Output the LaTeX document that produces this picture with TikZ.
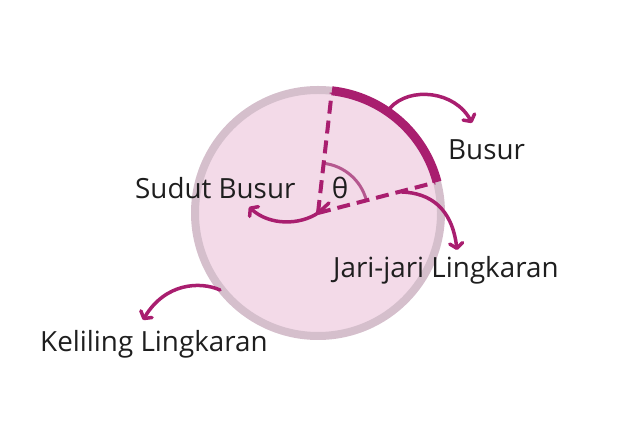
\documentclass[tikz,border=0pt]{standalone}
\usepackage{fontspec}
\setmainfont{Open Sans}
\usetikzlibrary{arrows.meta}
\definecolor{mag}{HTML}{A91E6F}
\definecolor{ringc}{HTML}{D5BFCC}
\definecolor{fillc}{HTML}{F3DAE8}
\definecolor{anglec}{HTML}{B5588F}
\definecolor{txt}{HTML}{1E1E1E}
\tikzset{
  lbl/.style={anchor=base west,inner sep=0pt,text=txt,font=\fontsize{27.8}{32}\selectfont},
  radius line/.style={draw=mag,line width=4pt,dash pattern=on 13pt off 7pt},
  pointer/.style={draw=mag,line width=3.5pt,line cap=round,line join=round,-{Straight Barb[length=5pt,width=13pt,round]}}
}
\begin{document}
\begin{tikzpicture}[x=1pt,y=1pt]
\useasboundingbox (0,0) rectangle (634,433);
\coordinate (C) at (318,220);
% circle
\draw[draw=ringc,fill=fillc,line width=8pt] (C) circle[radius=123];
% arc (busur)
\draw[draw=mag,line width=9pt] ([shift={(14.6:123)}]C) arc[start angle=14.6,end angle=83.5,radius=123];
% angle arc
\draw[draw=anglec,line width=3pt] ([shift={(14.6:50)}]C) arc[start angle=14.6,end angle=83.5,radius=50];
% radii
\coordinate (P1) at ([shift={(83.5:121)}]C);
\coordinate (P2) at ([shift={(14.6:121)}]C);
\draw[radius line] (C) -- (P1);
\draw[radius line] (C) -- (P2);
% theta
\node[lbl,anchor=base] (theta) at (340,234) {θ};
% labels
\node[lbl] (busur) at (448,273) {Busur};
\node[lbl] (sudut) at (135,234) {Sudut Busur};
\node[lbl] (jari) at (333,155) {Jari-jari Lingkaran};
\node[lbl] (kel) at (40,81) {Keliling Lingkaran};
% pointer coordinates
\coordinate (a1) at (390,325);
\coordinate (b1) at (472,310);
\coordinate (a2) at (329,230);
\coordinate (b2) at (249,226);
\coordinate (a3) at (402,241);
\coordinate (b3) at (457,183);
\coordinate (a4) at (220,143);
\coordinate (b4) at (143,113);
\draw[pointer] (a1) .. controls (410,347) and (455,342) .. (b1);
\draw[pointer] (a2) -- (C) .. controls (300,208) and (270,207) .. (b2);
\draw[pointer] (a3) .. controls (430,240) and (452,225) .. (b3);
\draw[pointer] (a4) .. controls (200,152) and (165,150) .. (b4);
\end{tikzpicture}
\end{document}
